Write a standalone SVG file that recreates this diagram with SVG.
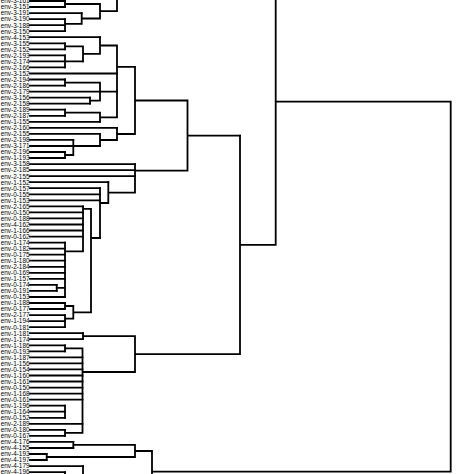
<svg xmlns="http://www.w3.org/2000/svg" width="474" height="474" viewBox="0 0 474 474">
<style>
.bg{fill:#ffffff}
.e{fill:none;stroke:#000;stroke-width:1.8;stroke-linecap:square}
text{font-family:"Liberation Sans",Arial,sans-serif;font-size:6.4px;fill:#000;text-anchor:end}
</style>
<rect class="bg" x="0" y="0" width="474" height="474"/>
<g id="connectors">
<path class="e" d="M30 1H65M30 7H65M30 13.1H81.7M30 19.1H65M30 25.2H65M30 31.2H65M30 37.2H100M30 43.3H65M30 49.3H65M30 55.4H65M30 61.4H83M30 67.4H65M30 73.5H117M30 79.5H65M30 85.6H65M30 91.6H117M30 97.6H90M30 103.7H90M30 109.7H65M30 115.8H65M30 121.8H100M30 127.8H117M30 133.9H100M30 139.9H73.3M30 146H100M30 152H65M30 158H65M30 164.1H135M30 170.1H135M30 176.2H135M30 182.2H108.3M30 188.2H100M30 194.3H100M30 200.3H100M30 206.4H83M30 212.4H83M30 218.4H83M30 224.5H83M30 230.5H83M30 236.6H83M30 242.6H65M30 248.6H65M30 254.7H65M30 260.7H65M30 266.8H65M30 272.8H65M30 278.8H65M30 284.9H56.7M30 290.9H56.7M30 297H65M30 303H65M30 309H65M30 315.1H65M30 321.1H65M30 327.2H65M30 333.2H83M30 339.2H83M30 345.3H65M30 351.3H65M30 357.4H82.5M30 363.4H82.5M30 369.4H82.5M30 375.5H82.5M30 381.5H82.5M30 387.6H82.5M30 393.6H82.5M30 399.6H82.5M30 405.7H65M30 411.7H65M30 417.8H65M30 423.8H82.5M30 429.8H65M30 435.9H65M30 441.9H73.3M30 448H73.3M30 454H46.7M30 460H46.7M30 466.1H83M30 472.1H65"/>
<path class="e" d="M65 1V7M65 4H100M65 19.1V31.2M65 23.8H81.7M81.7 13.1V23.8M81.7 18.5H100M100 4V18.5M100 11.2H117M117 -2V11.2M65 43.3V49.3M65 46.3H83M65 55.4V67.4M83 46.3V61.4M83 53.9H100M100 37.2V53.9M100 45.5H117M65 79.5V85.6M65 82.6H100M90 97.6V103.7M90 100.7H100M100 82.6V100.7M65 109.7V115.8M65 112.7H100M100 112.7V121.8M100 117.3H117M117 45.5V117.3M117 66.9H135M65 152V158M65 155H73.3M73.3 139.9V155M100 133.9V146M100 140H117M117 127.8V140M117 134H135M135 66.9V134M135 100.5H187.5M100 188.2V238M100 203H108.3M108.3 182.2V203M108.3 192.6H135M135 164.1V192.6M135 170.7H187.5M187.5 100.5V170.7M187.5 135.6H240"/>
<path class="e" d="M56.7 284.9V290.9M56.7 287.9H65M65 242.6V297M65 251.3H83M83 206.4V251.3M83 208.8H91M65 303V309M65 306H73.3M65 315.1V327.2M65 318.7H73.3M73.3 306V318.7M73.3 312.4H91M91 208.8V312.4M91 238H100M83 333.2V339.2M83 336.2H135M65 345.3V351.3M65 348.3H82.5M65 405.7V417.8M65 429.8V435.9M65 432.9H82.5M82.5 348.3V432.9M82.5 372H135M135 336.2V372M135 354.1H240M240 135.6V354.1M240 244.9H275.7M275.7 -2V244.9M275.7 101.7H450.7M450.7 101.7V471.7M152 471.7H450.7M73.3 441.9V448M73.3 444.9H135M46.7 454V460M46.7 457H135M135 444.9V457M135 451H152M152 451V480M83 466.1V480M65 472.1V480"/>
</g>
<g id="labels">
<g id="n0"><text x="29.5" y="3.3">env-3-161</text></g>
<g id="n1"><text x="29.5" y="9.3">env-3-151</text></g>
<g id="n2"><text x="29.5" y="15.4">env-3-191</text></g>
<g id="n3"><text x="29.5" y="21.4">env-3-190</text></g>
<g id="n4"><text x="29.5" y="27.5">env-3-188</text></g>
<g id="n5"><text x="29.5" y="33.5">env-3-150</text></g>
<g id="n6"><text x="29.5" y="39.5">env-4-153</text></g>
<g id="n7"><text x="29.5" y="45.6">env-3-155</text></g>
<g id="n8"><text x="29.5" y="51.6">env-2-152</text></g>
<g id="n9"><text x="29.5" y="57.7">env-2-193</text></g>
<g id="n10"><text x="29.5" y="63.7">env-2-174</text></g>
<g id="n11"><text x="29.5" y="69.7">env-2-166</text></g>
<g id="n12"><text x="29.5" y="75.8">env-3-152</text></g>
<g id="n13"><text x="29.5" y="81.8">env-2-194</text></g>
<g id="n14"><text x="29.5" y="87.9">env-2-186</text></g>
<g id="n15"><text x="29.5" y="93.9">env-2-179</text></g>
<g id="n16"><text x="29.5" y="99.9">env-3-156</text></g>
<g id="n17"><text x="29.5" y="106">env-2-158</text></g>
<g id="n18"><text x="29.5" y="112">env-2-189</text></g>
<g id="n19"><text x="29.5" y="118.1">env-2-187</text></g>
<g id="n20"><text x="29.5" y="124.1">env-1-155</text></g>
<g id="n21"><text x="29.5" y="130.1">env-2-160</text></g>
<g id="n22"><text x="29.5" y="136.2">env-2-155</text></g>
<g id="n23"><text x="29.5" y="142.2">env-2-198</text></g>
<g id="n24"><text x="29.5" y="148.3">env-3-171</text></g>
<g id="n25"><text x="29.5" y="154.3">env-2-196</text></g>
<g id="n26"><text x="29.5" y="160.3">env-1-193</text></g>
<g id="n27"><text x="29.5" y="166.4">env-3-158</text></g>
<g id="n28"><text x="29.5" y="172.4">env-2-185</text></g>
<g id="n29"><text x="29.5" y="178.5">env-2-155</text></g>
<g id="n30"><text x="29.5" y="184.5">env-1-152</text></g>
<g id="n31"><text x="29.5" y="190.5">env-0-157</text></g>
<g id="n32"><text x="29.5" y="196.6">env-0-155</text></g>
<g id="n33"><text x="29.5" y="202.6">env-1-153</text></g>
<g id="n34"><text x="29.5" y="208.7">env-2-165</text></g>
<g id="n35"><text x="29.5" y="214.7">env-0-150</text></g>
<g id="n36"><text x="29.5" y="220.7">env-0-188</text></g>
<g id="n37"><text x="29.5" y="226.8">env-4-162</text></g>
<g id="n38"><text x="29.5" y="232.8">env-1-166</text></g>
<g id="n39"><text x="29.5" y="238.9">env-0-162</text></g>
<g id="n40"><text x="29.5" y="244.9">env-1-174</text></g>
<g id="n41"><text x="29.5" y="250.9">env-0-182</text></g>
<g id="n42"><text x="29.5" y="257">env-0-175</text></g>
<g id="n43"><text x="29.5" y="263">env-1-180</text></g>
<g id="n44"><text x="29.5" y="269.1">env-2-184</text></g>
<g id="n45"><text x="29.5" y="275.1">env-0-169</text></g>
<g id="n46"><text x="29.5" y="281.1">env-1-157</text></g>
<g id="n47"><text x="29.5" y="287.2">env-0-174</text></g>
<g id="n48"><text x="29.5" y="293.2">env-0-191</text></g>
<g id="n49"><text x="29.5" y="299.3">env-0-153</text></g>
<g id="n50"><text x="29.5" y="305.3">env-1-188</text></g>
<g id="n51"><text x="29.5" y="311.3">env-0-177</text></g>
<g id="n52"><text x="29.5" y="317.4">env-2-177</text></g>
<g id="n53"><text x="29.5" y="323.4">env-1-194</text></g>
<g id="n54"><text x="29.5" y="329.5">env-0-181</text></g>
<g id="n55"><text x="29.5" y="335.5">env-1-181</text></g>
<g id="n56"><text x="29.5" y="341.5">env-1-174</text></g>
<g id="n57"><text x="29.5" y="347.6">env-1-186</text></g>
<g id="n58"><text x="29.5" y="353.6">env-0-193</text></g>
<g id="n59"><text x="29.5" y="359.7">env-1-187</text></g>
<g id="n60"><text x="29.5" y="365.7">env-1-156</text></g>
<g id="n61"><text x="29.5" y="371.7">env-0-154</text></g>
<g id="n62"><text x="29.5" y="377.8">env-1-160</text></g>
<g id="n63"><text x="29.5" y="383.8">env-1-161</text></g>
<g id="n64"><text x="29.5" y="389.9">env-0-150</text></g>
<g id="n65"><text x="29.5" y="395.9">env-1-168</text></g>
<g id="n66"><text x="29.5" y="401.9">env-0-161</text></g>
<g id="n67"><text x="29.5" y="408">env-1-196</text></g>
<g id="n68"><text x="29.5" y="414">env-1-164</text></g>
<g id="n69"><text x="29.5" y="420.1">env-0-152</text></g>
<g id="n70"><text x="29.5" y="426.1">env-2-189</text></g>
<g id="n71"><text x="29.5" y="432.1">env-0-180</text></g>
<g id="n72"><text x="29.5" y="438.2">env-0-167</text></g>
<g id="n73"><text x="29.5" y="444.2">env-4-176</text></g>
<g id="n74"><text x="29.5" y="450.3">env-4-155</text></g>
<g id="n75"><text x="29.5" y="456.3">env-4-193</text></g>
<g id="n76"><text x="29.5" y="462.3">env-4-197</text></g>
<g id="n77"><text x="29.5" y="468.4">env-4-179</text></g>
<g id="n78"><text x="29.5" y="474.4">env-4-196</text></g>
</g>
</svg>
